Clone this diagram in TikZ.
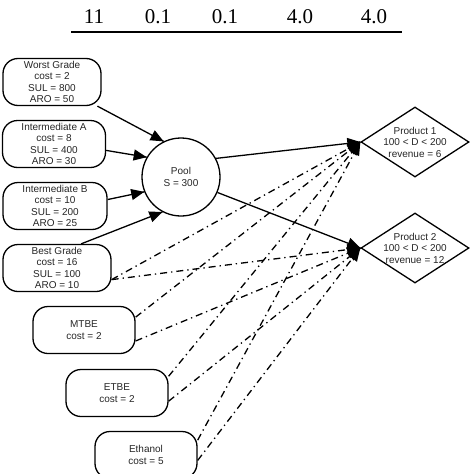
\documentclass[tikz,border=0pt]{standalone}
\usepackage{fontspec}
\setmainfont{Liberation Serif}
\setsansfont{Liberation Sans}
\usetikzlibrary{arrows.meta,shapes.geometric,
                 decorations.markings}
\tikzset{->/.style = {decoration={markings, mark=at position 1 with {\arrow{Triangle[length=13pt,width=11pt]}}}, postaction={decorate}}}
\tikzset{stream/.style = {draw, rounded corners=15pt, line width=1.3pt, align=center, inner sep=1pt,
                          minimum height=47pt, font={\fontsize{10}{11.5}\selectfont\sffamily}, text=black!85}}
\tikzset{blend/.style = {line width=1.3pt, dash pattern=on 7pt off 4pt on 1.3pt off 4pt}}

\begin{document}
\begin{tikzpicture}[x=1pt,y=-1pt,
    pool/.style={draw, circle, line width=1.3pt, minimum size=78pt, inner sep=0,
        font={\fontsize{10}{11.5}\selectfont\sffamily}, text=black!85, align=center},
    product/.style={draw, diamond, line width=1.3pt, shape aspect=1.54, inner sep=-3pt,
        minimum width=108pt, minimum height=70pt,
        font={\fontsize{10}{11.5}\selectfont\sffamily}, text=black!85, align=center},
    ]
    \useasboundingbox (0,0) rectangle (474,474);

    % Table row above the figure
    \foreach \x/\v [count=\i] in {94/11,158/0.1,225/0.1,300/4.0,374/4.0}
        \node[anchor=base, font=\fontsize{21}{24}\selectfont, inner sep=0] (val\i) at (\x,23) {\v};
    \draw[line width=2pt] (71,32) -- (402,32);

    % Feed streams
    \node[stream, minimum width=98pt] (worst) at (52,82) {Worst Grade\\cost = 2\\SUL = 800\\ARO = 50};
    \node[stream, minimum width=103pt] (intA) at (54,144) {Intermediate A\\cost = 8\\SUL = 400\\ARO = 30};
    \node[stream, minimum width=104pt] (intB) at (55,206) {Intermediate B\\cost = 10\\SUL = 200\\ARO = 25};
    \node[stream, minimum width=108pt] (best) at (57,268) {Best Grade\\cost = 16\\SUL = 100\\ARO = 10};
    \node[stream, minimum width=102pt] (mtbe) at (84,330) {MTBE\\cost = 2};
    \node[stream, minimum width=102pt] (etbe) at (117,393) {ETBE\\cost = 2};
    \node[stream, minimum width=102pt] (ethanol) at (146,455) {Ethanol\\cost = 5};

    % Pool
    \node[pool] (pool) at (181,177) {Pool\\S = 300};

    % Products
    \node[product] (prod1) at (415,142) {Product 1\\100 < D < 200\\revenue = 6};
    \node[product] (prod2) at (415,248) {Product 2\\100 < D < 200\\revenue = 12};

    % Streams into the pool
    \draw[->,line width=1.3pt] (worst.-28) -- (pool.116);
    \draw[->,line width=1.3pt] (intA.-7) -- (pool.150);
    \draw[->,line width=1.3pt] (intB.7) -- (pool.202);
    \draw[->,line width=1.3pt] (best.45) -- (pool.242);

    % Pool to products
    \draw[->,line width=1.3pt] (pool.28) -- (prod1.west);
    \draw[->,line width=1.3pt] (pool.-23) -- (prod2.west);

    % Direct blending
    \draw[->,blend] (best.-12) -- (prod1.west);
    \draw[->,blend] (best.-12) -- (prod2.west);
    \draw[->,blend] (mtbe.14) -- (prod1.west);
    \draw[->,blend] (mtbe.-12) -- (prod2.west);
    \draw[->,blend] (etbe.18) -- (prod1.west);
    \draw[->,blend] (etbe.-9) -- (prod2.west);
    \draw[->,blend] (ethanol.16) -- (prod1.west);
    \draw[->,blend] (ethanol.-6) -- (prod2.west);

\end{tikzpicture}
\end{document}
